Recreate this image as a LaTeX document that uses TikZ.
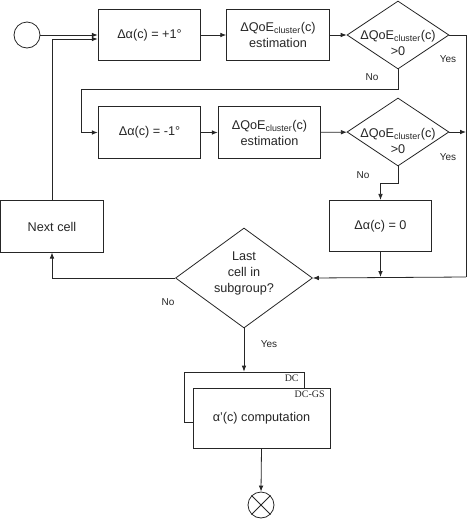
\documentclass[tikz,border=0pt]{standalone}
\usepackage{fontspec}
\setmainfont{Liberation Sans}
\newfontfamily\tagfont{Liberation Serif}
\usepackage{xcolor}
\usetikzlibrary{arrows.meta, shapes.geometric, positioning}

\begin{document}
\begin{tikzpicture}[x=0.75pt, y=-0.75pt,
    line width=0.6pt, draw=black!85, text=black!85,
    every node/.style={font=\fontsize{9.5}{12}\selectfont, align=center},
    box/.style={draw, rectangle, minimum width=77pt, minimum height=38.5pt, inner sep=0pt},
    dia/.style={draw, diamond, minimum width=76.5pt, minimum height=51pt, inner sep=0pt},
    term/.style={draw, circle, minimum size=19.5pt, inner sep=0pt},
    arr/.style={-{Latex[length=4.5pt, width=3.5pt]}},
    tag/.style={font=\tagfont\fontsize{7.5}{8}\selectfont, inner sep=1pt},
    ans/.style={font=\fontsize{7.5}{9}\selectfont}]

      \useasboundingbox (0,0) rectangle (474,522);

      % first row
      \node[term] (start) at (27,35) {};
      \node[box] (incr) at (149.5,35) {Δα(c) = +1°};
      \node[box] (est1) at (278,35) {ΔQoE\textsubscript{cluster}(c)\\estimation};
      \node[dia] (d1) at (398,35) {};
      \node (d1t) at (398,43) {ΔQoE\textsubscript{cluster}(c)\\>0};

      % second row
      \node[box] (dec) at (149.5,132.5) {Δα(c) = -1°};
      \node[box] (est2) at (269.5,132.5) {ΔQoE\textsubscript{cluster}(c)\\estimation};
      \node[dia] (d2) at (398,132) {};
      \node (d2t) at (398,141) {ΔQoE\textsubscript{cluster}(c)\\>0};
      \node[box] (zero) at (380.5,226) {Δα(c) = 0};

      % loop over cells
      \node[box] (next) at (52,226.5) {Next cell};
      \node[dia, minimum width=102.75pt, minimum height=75pt] (d3) at (244,278) {};
      \node (d3t) at (244,273) {Last\\cell in\\subgroup?};
      \coordinate (join) at (466,277);

      % final computation
      \node[draw, minimum width=90pt, minimum height=37.5pt] (dc) at (244,397) {};
      \node[tag, anchor=north east] (dclbl) at ([xshift=-3pt,yshift=-1pt]dc.north east) {DC};
      \node[draw, fill=white, minimum width=102.75pt, minimum height=45pt] (dcgs) at (261.5,418) {α'(c) computation};
      \node[tag, anchor=north east] (dcgslbl) at ([xshift=-3pt,yshift=-1pt]dcgs.north east) {DC-GS};
      \node[term] (stop) at (261,505) {};
      \draw (stop.45) -- (stop.225) (stop.135) -- (stop.315);

      % connectors
      \draw[arr] (start) -- (incr);
      \draw[arr] (incr) -- (est1);
      \draw[arr] (est1) -- (d1);
      \draw (d1.east) -| (join);
      \draw[arr] (d1.south) -- ++(0,20) -| ([xshift=-12pt]dec.west) -- (dec.west);
      \draw[arr] (dec) -- (est2);
      \draw[arr] (est2) -- (d2);
      \draw[arr] (d2.east) -- (d2.east -| join);
      \draw[arr] (d2.south) -- ++(0,17) -| (zero.north);
      \draw[arr] (zero.south) -- (zero.south |- join);
      \draw[arr] (join) -- (d3.east);
      \draw[arr] (d3.west) -| (next.south);
      \draw[arr] (next.north) |- ([yshift=-3pt]incr.west);
      \draw[arr] (d3.south) -- (dc.north);
      \draw[arr] (dcgs.south) -- (stop.north);

      % branch labels
      \node[ans] (y1) at (448,59) {Yes};
      \node[ans] (n1) at (372,77) {No};
      \node[ans] (y2) at (448,157) {Yes};
      \node[ans] (n2) at (363,175) {No};
      \node[ans] (n3) at (168,302) {No};
      \node[ans] (y3) at (269,344) {Yes};
    \end{tikzpicture}
\end{document}
